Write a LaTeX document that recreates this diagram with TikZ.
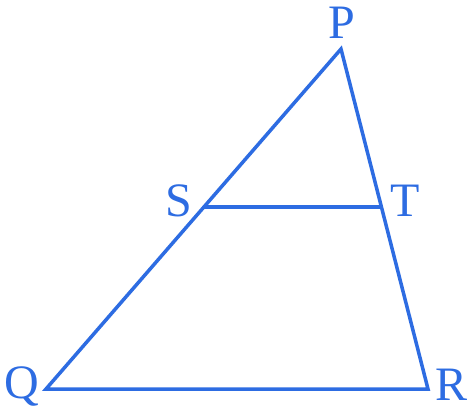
\documentclass[tikz,border=0pt]{standalone}
\usepackage{fontspec}
\setmainfont{Liberation Serif}
\definecolor{lineblue}{RGB}{45,108,226}
\begin{document}
\begin{tikzpicture}[x=1pt,y=-1pt,
  edge/.style={draw=lineblue,line width=3.5pt,line join=miter},
  lbl/.style={anchor=base,inner sep=0pt,text=lineblue,font=\fontsize{48}{48}\selectfont}]
\useasboundingbox[fill=white] (0,0) rectangle (474,417);
\coordinate (P) at (341,49);
\coordinate (Q) at (46,389);
\coordinate (R) at (428,389);
\coordinate (S) at (204,207);
\coordinate (T) at (381,207);
\draw[edge] (P) -- (Q) -- (R) -- cycle;
\draw[edge] (S) -- (T);
\node[lbl] (lP) at (342,39) {P};
\node[lbl] (lQ) at (22,398) {Q};
\node[lbl] (lR) at (452,400) {R};
\node[lbl] (lS) at (179,216) {S};
\node[lbl] (lT) at (405,216) {T};
\end{tikzpicture}
\end{document}
